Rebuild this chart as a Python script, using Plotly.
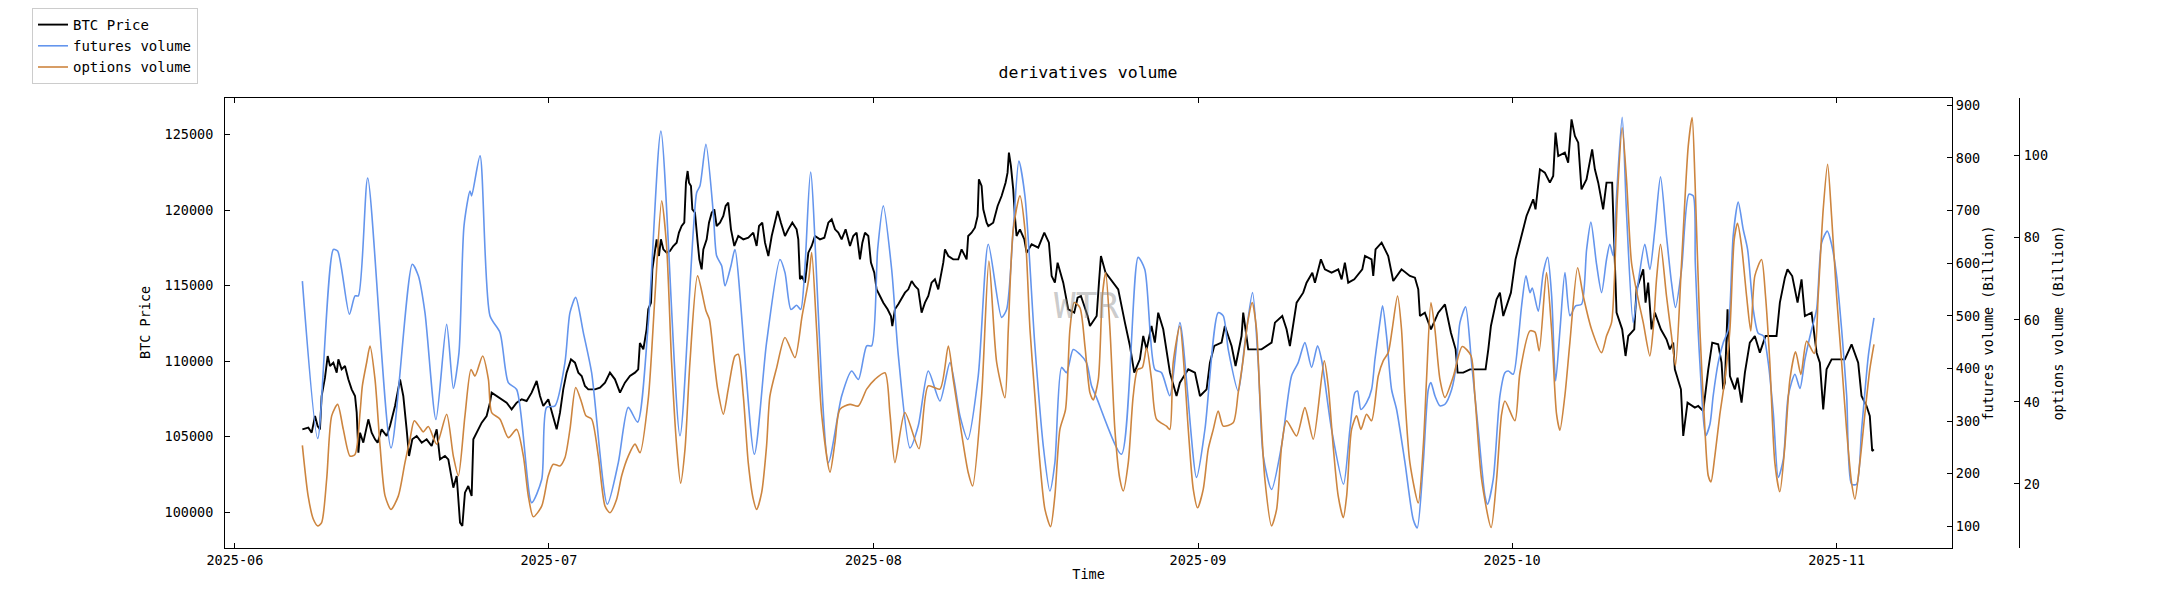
import pandas as pd
import plotly.graph_objects as go

# ---------------- data ----------------
BASE_DATE = "2025-06-01"

# BTC price: day offset from 2025-06-01, price in USD
price_days = [
    6.45, 7.02, 7.34, 7.66, 7.91, 8.13, 8.29, 8.61, 8.87, 9.09, 9.41, 9.73, 9.89, 10.20, 10.52,
    10.84, 11.16, 11.48, 11.64, 11.80, 11.96, 12.27, 12.75, 13.07, 13.39, 13.64, 14.02, 14.50,
    14.82, 15.30, 15.78, 16.09, 16.41, 16.64, 16.95, 17.37, 17.85, 18.32, 18.80, 19.28, 19.60,
    20.07, 20.39, 20.71, 20.87, 21.19, 21.51, 21.73, 21.98, 22.30, 22.62, 22.78, 23.10, 23.58,
    24.05, 24.37, 24.53, 25.01, 25.49, 25.96, 26.44, 26.92, 27.40, 27.87, 28.35, 28.83, 29.15,
    29.46, 29.94, 30.42, 30.74, 31.06, 31.37, 31.69, 32.11, 32.49, 32.81, 33.13, 33.44, 33.76,
    34.40, 34.88, 35.36, 35.83, 36.31, 36.79, 37.26, 37.74, 38.22, 38.53, 38.69, 39.02, 39.33,
    39.49, 39.75, 39.88,
    40.29, 40.51, 40.70, 40.93, 41.24, 41.56, 41.88, 42.20, 42.42, 42.68, 42.93, 43.09, 43.25,
    43.38, 43.57, 43.70, 43.95, 44.21, 44.37, 44.59, 44.75, 45.07, 45.29, 45.55, 45.80, 46.02,
    46.34, 46.66, 46.88, 47.13, 47.39, 47.71, 48.09, 48.57, 49.05, 49.52, 49.84, 50.07, 50.38,
    50.64, 50.96, 51.28, 51.59, 51.85, 52.16, 52.55, 52.87, 53.25, 53.66, 53.82, 53.98, 54.14,
    54.46, 54.78, 55.10, 55.41, 55.89, 56.31, 56.69, 57.01, 57.33, 57.64, 57.96, 58.34, 58.76,
    59.07, 59.39, 59.71, 59.94, 60.19, 60.51, 60.76, 61.08, 61.30, 61.62, 61.94, 62.35, 62.67,
    62.80, 63.05, 63.37, 63.69, 64.01, 64.33, 64.65, 64.96, 65.28, 65.60, 65.92, 66.24, 66.55,
    66.87, 67.19, 67.67, 67.83, 68.15, 68.62, 69.10, 69.42, 69.90, 70.05, 70.37, 70.69, 70.95,
    71.07, 71.33, 71.49, 71.81,
    71.97, 72.44, 72.86, 73.24, 73.62, 73.81, 73.94, 74.13, 74.35, 74.51, 74.67, 74.99, 75.41,
    75.63, 76.11, 76.74, 77.32, 77.76, 78.02, 78.33, 78.59, 79.13, 79.61, 80.18, 80.50, 80.82,
    81.46, 81.68, 82.32, 82.54, 82.73, 83.17, 83.75, 84.38, 85.02, 85.50, 85.91, 86.45, 86.77,
    87.09, 87.56, 87.88, 88.20, 88.68, 89.32, 89.95, 90.27, 91.07, 91.71, 92.19, 92.82, 93.14,
    93.55, 94.25, 94.57, 95.21, 95.59, 96.16, 96.32, 96.80, 97.44, 98.07, 99.03, 99.35, 100.05,
    100.46, 100.78, 101.10, 101.42, 102.05, 102.37, 102.92, 103.17, 103.74, 104.12, 104.76,
    105.40, 105.72, 106.03, 106.35, 106.93, 107.69, 107.95, 108.58, 108.74, 108.96, 109.54,
    110.17, 110.65, 111.44, 112.24, 112.72, 113.04, 113.20, 113.67, 114.25, 114.95, 115.59,
    116.16, 116.61, 116.80, 117.34, 117.98, 118.77, 119.47, 119.73, 119.98, 120.52, 120.84,
    121.16, 121.89, 122.33, 122.84, 123.38, 124.02, 124.24, 124.66, 125.13, 125.61, 125.93,
    126.15, 126.41, 127.04, 127.36, 127.68, 128.00, 128.32, 128.63, 129.11, 129.65, 129.91,
    130.23, 130.70, 131.02, 131.56, 131.76, 131.98, 132.52, 132.84, 133.10, 133.67, 133.89,
    134.53, 134.75, 135.00, 135.32, 135.64, 136.21, 136.75, 137.07, 137.39, 137.55, 138.13,
    138.35, 138.76, 139.46, 139.78, 140.26, 140.58, 140.74, 141.12, 141.69, 142.01, 142.17,
    142.33, 142.58, 142.81, 143.28, 143.54, 143.92, 144.24, 144.71, 145.19, 145.67, 146.21,
    146.72, 147.26, 147.58, 148.06, 148.31, 148.76, 149.27, 149.65, 149.97, 150.61, 151.09,
    151.40, 151.72, 152.04, 152.52, 153.15, 153.79, 154.43, 155.06, 155.38, 155.86, 156.17,
    156.40, 156.55,
]
price_vals = [
    105477, 105588, 105256, 106361, 105698, 105477, 107686, 108900, 110336, 109673, 109894, 109232, 110115, 109453, 109673,
    108790, 108127, 107686, 106581, 103931, 105256, 104594, 106140, 105256, 104815, 104594, 105477, 105036,
    105698, 107023, 108790, 107686, 105477, 103710, 104815, 105036, 104594, 104815, 104373, 105477, 103489,
    103710, 103489, 102385, 101612, 102385, 99294, 99073, 101281, 101721, 101060, 104815, 105256, 105919,
    106361, 107244, 107907, 107686, 107465, 107244, 106803, 107244, 107465, 107355, 107907, 108680, 107686,
    107023, 107465, 106361, 105477, 106581, 108127, 109232, 110115, 109894, 109232, 109011, 108349, 108127,
    108127, 108238, 108569, 109232, 108790, 107907, 108569, 109011, 109232, 109453, 111200, 110778, 112103,
    113428, 113869, 116078,
    118066, 116961, 118066, 117403, 117183, 117293, 117624, 117845, 118508, 118949, 119170, 121820, 122593,
    121820, 121599, 120053, 119833, 117845, 116741, 116078, 117403, 118066, 119170, 119833, 120053, 118949,
    119170, 119612, 120274, 120495, 118728, 117624, 118287, 118066, 118176, 118508, 117624, 118949, 119170,
    117845, 116961, 118287, 119170, 119943, 119170, 118287, 118728, 119170, 118728, 118066, 115416, 115636,
    115195, 117183, 117624, 118287, 118066, 118176, 119170, 119391, 118728, 118508, 118066, 118728, 117624,
    118287, 118508, 116741, 117845, 118508, 118287, 116520, 115857, 114753, 114311, 113869, 113428, 112986,
    112324, 113428, 113759, 114201, 114532, 114753, 115305, 114974, 114753, 113207, 113869, 114311, 115195,
    115416, 114753, 116520, 117403, 116961, 116741, 116741, 117403, 116741, 118287, 118508, 118839, 119612,
    122041, 121599, 120053, 119170,
    118949, 119170, 120274, 120937, 121820, 122483, 123808, 122925, 121378, 119612, 118287, 118728, 118066,
    117183, 117735, 117514, 118508, 117845, 115636, 115195, 116520, 115195, 113428, 113207, 114201, 114311,
    112986, 112324, 112986, 115195, 116961, 115857, 115305, 114753, 112545, 110999, 109232, 110115, 111661,
    110778, 112324, 111220, 113207, 112103, 109232, 107686, 108569, 109453, 109232, 107686, 108127, 109894,
    110999, 111220, 112324, 110999, 109673, 111661, 113207, 110778, 110778, 110778, 111220, 112545, 112986,
    112103, 110999, 112545, 113869, 114532, 115195, 115857, 115195, 116741, 116078, 115857,
    116078, 115416, 116520, 115195, 115416, 116078, 116961, 116741, 115636, 117403, 117845,
    116961, 115305, 116078, 115636, 115526, 114753, 112986, 113207, 112103, 113207, 113759,
    111882, 110778, 109232, 109232, 109453, 109453, 109453, 110778, 112324, 114090, 114532,
    112986, 114532, 116741, 118066, 119612, 120716, 120053, 122704, 122483, 121820, 122262,
    125133, 123587, 123808, 123145, 126016, 124912, 124470, 121378, 122041, 124029, 122704,
    121820, 120053, 121820, 121820, 116961, 113207, 112103, 110336, 111661, 112103, 114753,
    116078, 113869, 115195, 112103, 113207, 112103, 111441, 110778, 111220, 109453, 108127,
    105036, 107244, 106913, 107023, 106692, 108569, 109453, 111220, 111109, 109894, 108127,
    108569, 113428, 109011, 108127, 108900, 107244, 109232, 111220, 111661, 110557, 111661,
    111661, 111661, 113869, 115526, 116078, 115636, 113869, 115416, 112986, 113207, 110557,
    109894, 106801, 109453, 110115, 110115, 110115, 111109, 109894, 107686, 107023, 106361,
    104042, 104152,
]

# futures volume (Billion)
fut_days = [
    6.45, 7.92, 9.41, 9.82, 10.94, 11.48, 11.80, 12.69, 14.92, 16.95, 17.53, 18.16, 19.21, 20.23,
    20.87, 21.41, 21.89, 22.46, 22.62, 23.42, 24.37, 25.33, 26.12, 26.92, 28.35, 29.31, 29.78,
    30.58, 31.53, 32.01, 32.56, 33.29, 34.08, 35.58, 36.63, 37.58, 38.47, 39.50, 40.70, 42.52,
    44.11, 44.43, 45.00, 45.70, 46.02, 46.50, 46.82, 47.39, 47.77, 49.62, 50.79, 52.07, 52.55,
    53.12, 53.66, 54.05, 54.46, 55.00, 56.69, 57.97, 58.92, 59.56, 60.36, 60.83, 61.40, 61.94,
    62.74, 63.38, 64.49, 65.28, 66.24, 67.35, 68.31, 69.26, 70.00, 71.01, 71.97, 73.24, 73.72,
    74.35, 74.89, 75.47, 76.42, 77.22, 77.85, 78.33, 78.97, 79.44, 80.08, 80.72, 81.35, 81.83,
    82.30, 84.69, 86.28, 86.92, 87.88, 88.51, 89.31, 90.27, 91.86, 92.66, 93.93, 94.41, 94.89,
    95.84, 96.48, 97.21, 97.75, 98.23, 99.03, 99.98, 100.94, 101.57, 102.21, 102.85, 103.42,
    103.80, 104.76, 105.90, 106.51, 106.99, 107.24, 107.56, 108.10, 108.58, 108.90, 109.37,
    109.63, 110.01, 110.49, 110.97, 111.77, 112.56, 112.94, 113.52, 114.00, 114.25, 114.63,
    115.11, 115.59, 116.23, 116.70, 117.02, 117.56, 118.13, 118.77, 119.41, 119.66, 120.20,
    120.84, 121.32, 121.64, 122.11, 122.59, 122.91, 123.33, 123.71, 123.93, 124.50, 124.98,
    125.40, 125.78, 126.16, 126.58, 127.05, 127.53, 128.07, 128.64, 129.12, 129.53, 130.07,
    130.55, 131.02, 131.34, 131.66, 131.98, 132.52, 132.93, 133.57, 134.05, 134.68, 135.16,
    135.64, 136.18, 136.75, 137.23, 137.61, 138.19, 138.89, 139.30, 139.50, 139.94, 140.48,
    140.90, 141.21, 141.69, 142.17, 142.65, 143.12, 143.60, 144.08, 144.50, 145.04, 145.51,
    145.99, 146.47, 146.95, 147.43, 147.91, 148.38, 149.02, 149.50, 149.97, 150.61, 151.09,
    151.57, 152.11, 152.52, 153.00, 153.48, 153.96, 154.43, 154.91, 155.39, 156.03, 156.57,
]
fut_vals = [
    566, 267, 626, 623, 503, 538, 538, 762, 249, 598, 576, 506, 303, 484,
    362, 430, 671, 737, 728, 804, 500, 468, 373, 360, 145, 189, 326,
    329, 411, 506, 535, 468, 392, 142, 221, 326, 298, 487, 851, 272,
    734, 747, 826, 696, 614, 595, 557, 595, 626, 237, 449, 607, 582,
    512, 520, 512, 595, 773, 221, 348, 395, 379, 443, 443, 626, 709,
    588, 424, 249, 291, 395, 338, 411, 310, 265, 386, 636, 497, 512,
    664, 794, 728, 443, 253, 167, 221, 402, 392, 436, 427, 411, 367,
    345, 237, 611, 588, 398, 392, 348, 487, 193, 284, 506, 500, 436,
    357, 449, 544, 411, 234, 170, 253, 386, 411, 449, 402, 443,
    417, 284, 180, 284, 354, 357, 322, 335, 360, 417, 487,
    519, 462, 360, 322, 221, 113, 97, 221, 360, 373, 348,
    329, 332, 360, 411, 487, 517, 411, 284, 158, 142, 189,
    348, 392, 395, 389, 455, 519, 576, 544, 553, 509, 582,
    611, 538, 376, 474, 582, 500, 519, 522, 626, 678, 598,
    544, 607, 636, 614, 728, 877, 696, 487, 563, 636, 588,
    664, 764, 652, 563, 516, 588, 731, 728, 601, 411, 272,
    294, 348, 411, 449, 474, 652, 716, 664, 626, 512, 467,
    462, 411, 316, 193, 227, 348, 389, 362, 417, 474, 512,
    639, 661, 636, 576, 474, 348, 180, 180, 284, 424, 496,
]

# options volume (Billion)
opt_days = [
    6.45, 7.00, 7.50, 7.92, 8.29, 8.77, 9.25, 9.82, 10.36, 11.00, 11.48, 11.96, 12.18, 12.59,
    12.91, 13.39, 13.87, 14.35, 14.92, 15.62, 16.25, 16.73, 17.14, 17.69, 18.00, 18.48, 19.28,
    20.23, 20.87, 21.35, 21.98, 22.56, 22.94, 23.67, 24.22, 24.53, 25.33, 26.12, 26.92, 27.56,
    28.03, 28.51, 29.31, 29.94, 30.42, 31.05, 31.53, 32.01, 32.56, 33.13, 33.54, 34.08, 34.72,
    35.36, 35.83, 36.47, 36.95, 37.58, 38.22, 38.70, 39.50, 40.13, 40.77, 41.24, 41.72, 42.20,
    42.58, 43.00, 43.47, 44.20, 45.00, 45.33, 45.80, 46.12, 46.66, 47.13, 47.77, 48.09, 48.57,
    49.04, 49.52, 49.84, 50.32, 50.79, 51.11, 51.75, 52.55, 53.50, 54.18, 54.82, 55.10, 55.57,
    56.05, 56.85, 57.32, 57.80, 58.76, 59.55, 60.35, 61.14, 62.10, 62.58, 63.05, 64.00, 65.35,
    66.23, 67.35, 68.15, 68.62, 69.26, 70.05, 70.47, 71.33, 72.03, 72.77, 73.56, 73.88, 74.35,
    74.99, 75.47, 75.95, 76.42, 76.90, 77.38, 77.92, 78.33, 78.81, 79.35, 79.77, 80.18, 80.72,
    81.20, 81.68, 81.99, 82.48, 82.86, 83.18, 83.59, 84.06, 84.54, 84.86, 85.34, 85.81, 86.23,
    86.67, 87.09, 87.56, 88.04, 88.99, 89.31, 89.63, 90.27, 90.75, 91.07, 91.55, 91.96, 92.50,
    92.98, 93.46, 93.93, 94.41, 95.36, 95.84, 96.32, 96.74, 97.18, 97.59, 97.91, 98.39, 99.03,
    99.51, 99.99, 100.46, 101.41, 102.21, 103.01, 104.06, 104.44, 104.91, 105.39, 105.88, 106.20,
    106.67, 107.15, 107.56, 108.10, 108.58, 109.22, 109.69, 110.17, 110.55, 111.06, 111.44,
    111.76, 112.24, 113.04, 113.52, 113.83, 114.25, 114.63, 115.11, 115.59, 116.40, 117.24,
    118.07, 118.45, 119.09, 120.00, 120.52, 121.00, 121.32, 122.27, 122.75, 123.71, 124.19,
    124.59, 125.29, 125.77, 126.25, 126.57, 127.04, 127.52, 128.26, 128.80, 129.59, 130.55,
    131.03, 131.50, 131.76, 132.07, 132.52, 132.93, 133.41, 134.05, 134.53, 135.16, 135.48,
    135.80, 136.18, 136.75, 137.23, 137.61, 138.19, 138.83, 139.20, 139.47, 139.94, 140.42,
    140.74, 141.00, 141.37, 141.85, 142.33, 142.81, 143.22, 143.54, 143.92, 144.40, 144.80,
    145.19, 145.83, 146.21, 146.62, 147.10, 147.58, 148.06, 148.54, 149.08, 149.59, 150.13,
    150.86, 151.24, 151.72, 152.14, 152.52, 153.00, 153.48, 153.95, 154.43, 154.75, 155.22,
    155.70, 156.17, 156.57,
]
opt_vals = [
    29.4, 17.1, 11.4, 9.8, 10.6, 21.1, 36.6, 39.4, 33.3, 26.8, 27.2, 37.4, 43.9, 49.6,
    53.6, 45.5, 29.3, 17.1, 13.8, 17.1, 25.2, 30.9, 35.4, 33.7, 32.7, 34.0, 29.7,
    37.0, 26.8, 22.0, 36.6, 47.9, 46.3, 51.2, 45.5, 37.4, 35.8, 31.3, 33.3, 26.8,
    17.1, 12.0, 14.6, 22.0, 24.8, 24.4, 26.4, 33.3, 43.5, 39.8, 36.6, 35.8, 26.8,
    14.6, 13.0, 16.3, 22.0, 26.8, 29.7, 27.6, 41.0, 65.8, 89.0, 78.0, 49.6, 29.3,
    20.2, 28.5, 49.6, 70.7, 62.2, 60.1, 49.6, 43.1, 37.0, 43.1, 51.2, 51.6, 41.4,
    25.2, 16.3, 13.8, 17.9, 29.3, 41.4, 48.3, 55.7, 50.8, 60.9, 69.9, 76.4, 57.7,
    37.0, 22.9, 30.1, 38.2, 39.4, 39.0, 43.1, 45.5, 47.1, 37.0, 25.2, 37.4, 28.6,
    43.9, 43.1, 53.6, 45.5, 34.9, 22.8, 19.5, 41.4, 74.3, 49.6, 41.0, 57.7, 82.0,
    90.2, 82.0, 57.7, 41.4, 25.2, 13.8, 9.6, 17.1, 33.3, 38.2, 57.7, 64.2, 63.0,
    53.6, 42.2, 40.5, 45.5, 65.8, 71.5, 57.7, 33.3, 21.1, 18.3, 25.2, 41.4, 47.9,
    48.3, 53.2, 45.5, 35.8, 34.1, 33.3, 49.6, 58.5, 45.5, 33.3, 18.7, 14.2, 18.7,
    28.5, 33.3, 37.8, 34.1, 34.9, 42.2, 50.4, 59.3, 64.2, 57.7, 41.4, 21.1, 9.8,
    13.8, 29.3, 35.4, 31.7, 38.6, 30.9, 50.0, 43.9, 29.3, 17.1, 11.8, 17.1,
    33.3, 36.6, 33.3, 37.0, 35.4, 46.3, 50.0, 52.0, 57.7, 65.8, 57.7,
    41.4, 25.2, 15.4, 29.3, 45.5, 64.2, 57.7, 45.5, 41.1, 46.3, 53.5,
    51.3, 41.4, 21.1, 9.4, 21.1, 37.0, 40.2, 35.4, 47.1, 57.3, 57.0,
    52.4, 71.5, 57.7, 37.0, 33.1, 41.4, 54.4, 72.7, 65.8, 57.7, 52.0,
    56.1, 59.3, 69.0, 90.3, 106.8, 94.2, 73.9, 65.0, 59.3, 51.2, 57.7,
    69.9, 78.4, 65.8, 56.1, 48.8, 73.9, 102.4, 109.3, 94.2, 57.7, 33.3,
    22.0, 20.5, 26.8, 37.0, 45.5, 57.7, 79.6, 83.5, 78.0, 65.8, 57.3,
    70.7, 74.7, 65.8, 49.6, 25.2, 18.1, 29.3, 45.5, 52.2, 46.7, 54.8,
    51.8, 65.8, 86.9, 97.9, 85.3, 65.8, 49.6, 33.3, 20.3, 16.3, 25.2,
    37.0, 47.9, 54.0,
]

month_tick_format = "%Y-%m"
price_ticks = [100000, 105000, 110000, 115000, 120000, 125000]
fut_ticks = [100, 200, 300, 400, 500, 600, 700, 800, 900]
opt_ticks = [20, 40, 60, 80, 100]

# ---------------- figure ----------------
def to_time(days):
    base = pd.Timestamp(BASE_DATE)
    return [base + pd.Timedelta(days=float(d)) for d in days]

FONT = "DejaVu Sans Mono"
fig = go.Figure()
fig.add_trace(go.Scatter(x=to_time(price_days), y=price_vals, name="BTC Price",
                         mode="lines", line=dict(color="#000000", width=1.9), yaxis="y"))
fig.add_trace(go.Scatter(x=to_time(fut_days), y=fut_vals, name="futures volume",
                         mode="lines", line=dict(color="#6495ED", width=1.6, shape="spline", smoothing=0.7),
                         yaxis="y2"))
fig.add_trace(go.Scatter(x=to_time(opt_days), y=opt_vals, name="options volume",
                         mode="lines", line=dict(color="#CD853F", width=1.6, shape="spline", smoothing=0.7),
                         yaxis="y3"))

axis_common = dict(ticks="inside", ticklen=5, tickwidth=1, tickcolor="black", automargin=False,
                   showline=True, linecolor="black", linewidth=1, showgrid=False, zeroline=False,
                   tickfont=dict(family=FONT, size=13.5, color="black"))

x_start = pd.Timestamp(BASE_DATE) + pd.Timedelta(days=-0.94)
x_end = pd.Timestamp(BASE_DATE) + pd.Timedelta(days=164.03)

fig.update_layout(
    template="plotly_white",
    width=2160, height=600,
    margin=dict(l=217, r=149, t=90, b=60, autoexpand=False),
    paper_bgcolor="white", plot_bgcolor="white",
    font=dict(family=FONT, size=13.5, color="black"),
    title=dict(text="derivatives volume", x=0.5, xref="container", xanchor="center",
               y=1 - 64 / 600, yref="container", yanchor="middle",
               font=dict(family=FONT, size=16.5, color="black")),
    showlegend=True,
    legend=dict(x=24 / 2160, y=1 + 10 / 600, xref="container", yref="container",
                xanchor="left", yanchor="top",
                bgcolor="white", bordercolor="#cccccc", borderwidth=1,
                font=dict(family=FONT, size=14, color="black"), tracegroupgap=2),
    xaxis=dict(domain=[0, 0.9627], type="date", range=[x_start, x_end],
               tickformat=month_tick_format, dtick="M1", tick0="2025-06-01",
               mirror="ticks", ticklabelstandoff=0,
               title=dict(text="Time", standoff=2, font=dict(family=FONT, size=13.5)),
               **axis_common),
    yaxis=dict(range=[97615, 127430], tickvals=price_ticks, tickformat="d",
               ticklabelstandoff=8,
               **axis_common),
    yaxis2=dict(range=[58.8, 913.9], tickvals=fut_ticks, overlaying="y", side="right",
                anchor="x", ticklabelstandoff=0,
                title=dict(text="futures volume (Billion)", standoff=4, font=dict(family=FONT, size=13.5)),
                **axis_common),
    yaxis3=dict(range=[4.4, 114.05], tickvals=opt_ticks, overlaying="y", side="right",
                anchor="free", position=1.0, ticklabelstandoff=1,
                title=dict(text="options volume (Billion)", standoff=6, font=dict(family=FONT, size=13.5)),
                **axis_common),
)

# left axis title (placed as annotation so it sits at the reference position)
fig.add_annotation(text="BTC Price", xref="paper", yref="paper", x=(137 - 217) / 1794, y=0.5,
                   textangle=-90, showarrow=False, xanchor="center", yanchor="middle",
                   font=dict(family=FONT, size=13.5, color="black"))

fig.add_annotation(text="WTR", xref="x domain", yref="y domain", x=0.4986, y=0.54,
                   showarrow=False, font=dict(family=FONT, size=36, color="rgba(140,140,140,0.45)"))

fig.write_html("out.html")
